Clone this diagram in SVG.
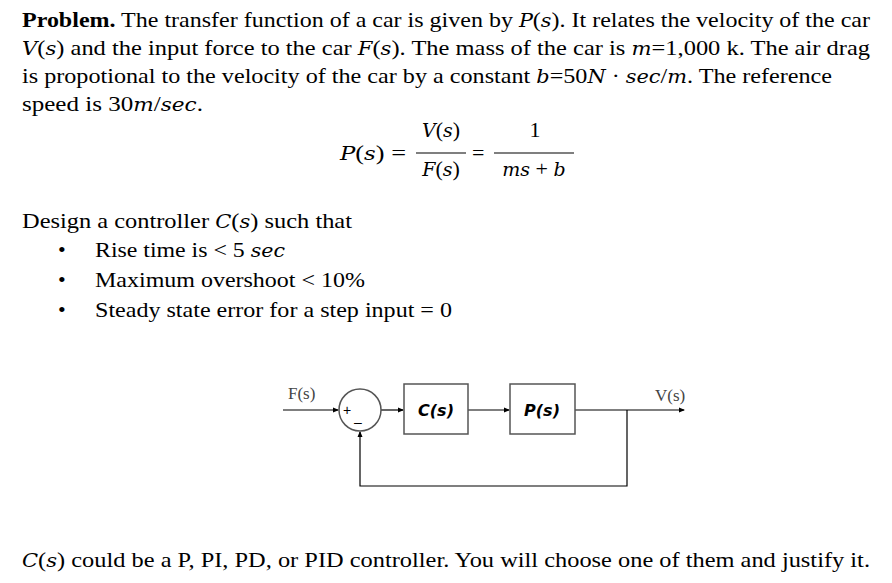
<svg xmlns="http://www.w3.org/2000/svg" width="892" height="583" viewBox="0 0 892 583">
<defs><marker id="a" markerWidth="6" markerHeight="6" refX="5" refY="3" orient="auto" markerUnits="userSpaceOnUse"><path d="M0,0.5 L6,3 L0,5.5z" fill="#000"/></marker></defs>
<style>
.t{font-family:"Liberation Serif",serif;font-size:22px;fill:#000}
.m{font-family:"DejaVu Serif","Liberation Serif",serif;font-style:italic;font-size:19px}
.c{fill:none;stroke:#000;stroke-width:1.2}
.bx{fill:#fff;stroke:#555;stroke-width:1.5}
.bl{font-family:"DejaVu Sans",sans-serif;font-weight:bold;font-style:italic;font-size:16px;text-anchor:middle}
.s{font-family:"Liberation Serif",serif;font-size:17px;fill:#444}
</style>
<rect width="892" height="583" fill="#fff"/>
<text class="t" x="22" y="27" textLength="848" lengthAdjust="spacingAndGlyphs"><tspan font-weight="bold">Problem.</tspan> The transfer function of a car is given by <tspan class="m">P</tspan>(<tspan class="m">s</tspan>). It relates the velocity of the car</text>
<text class="t" x="22" y="55" textLength="848" lengthAdjust="spacingAndGlyphs"><tspan class="m">V</tspan>(<tspan class="m">s</tspan>) and the input force to the car <tspan class="m">F</tspan>(<tspan class="m">s</tspan>). The mass of the car is <tspan class="m">m</tspan>=1,000 k. The air drag</text>
<text class="t" x="22" y="83" textLength="810" lengthAdjust="spacingAndGlyphs">is propotional to the velocity of the car by a constant <tspan class="m">b</tspan>=50<tspan class="m">N</tspan> · <tspan class="m">sec</tspan>/<tspan class="m">m</tspan>. The reference</text>
<text class="t" x="22" y="111" textLength="181" lengthAdjust="spacingAndGlyphs">speed is 30<tspan class="m">m</tspan>/<tspan class="m">sec</tspan>.</text>
<text class="t" x="340" y="160" textLength="66" lengthAdjust="spacingAndGlyphs"><tspan class="m">P</tspan>(<tspan class="m">s</tspan>) =</text>
<text class="t" x="441" y="137" text-anchor="middle"><tspan class="m">V</tspan>(<tspan class="m">s</tspan>)</text>
<line x1="416" y1="153" x2="466" y2="153" stroke="#000" stroke-width="1.2"/>
<text class="t" x="441" y="176" text-anchor="middle"><tspan class="m">F</tspan>(<tspan class="m">s</tspan>)</text>
<text class="t" x="472" y="160">=</text>
<text class="t" x="535" y="137" text-anchor="middle">1</text>
<line x1="494" y1="153" x2="574" y2="153" stroke="#000" stroke-width="1.2"/>
<text class="t" x="534" y="176" text-anchor="middle"><tspan class="m">ms</tspan> + <tspan class="m">b</tspan></text>
<text class="t" x="22" y="228" textLength="330" lengthAdjust="spacingAndGlyphs">Design a controller <tspan class="m">C</tspan>(<tspan class="m">s</tspan>) such that</text>
<text class="t" x="58" y="257">•</text><text class="t" x="95" y="257" textLength="190" lengthAdjust="spacingAndGlyphs">Rise time is &lt; 5 <tspan class="m">sec</tspan></text>
<text class="t" x="58" y="287">•</text><text class="t" x="95" y="287" textLength="270" lengthAdjust="spacingAndGlyphs">Maximum overshoot &lt; 10%</text>
<text class="t" x="58" y="317">•</text><text class="t" x="95" y="317" textLength="357" lengthAdjust="spacingAndGlyphs">Steady state error for a step input = 0</text>
<g id="connectors">
<line class="c" x1="283" y1="410" x2="338" y2="410" marker-end="url(#a)"/>
<line class="c" x1="381" y1="410" x2="403" y2="410" marker-end="url(#a)"/>
<line class="c" x1="468" y1="410" x2="509" y2="410" marker-end="url(#a)"/>
<line class="c" x1="575" y1="410" x2="684" y2="410" marker-end="url(#a)"/>
<polyline class="c" points="627,410 627,486 360,486 360,432" marker-end="url(#a)"/>
</g>
<g id="sum"><circle cx="360" cy="410" r="21" fill="#fff" stroke="#555" stroke-width="1.5"/>
<text x="343" y="415" font-family="Liberation Sans,sans-serif" font-size="14">+</text>
<text x="354" y="427" font-family="Liberation Sans,sans-serif" font-size="14">–</text></g>
<g id="C"><rect class="bx" x="404" y="384" width="64" height="50"/><text class="bl" x="436" y="416">C(s)</text></g>
<g id="P"><rect class="bx" x="510" y="384" width="65" height="50"/><text class="bl" x="542" y="416">P(s)</text></g>
<text class="s" x="288" y="399">F(s)</text>
<text class="s" x="655" y="401">V(s)</text>
<text class="t" x="22" y="567" textLength="848" lengthAdjust="spacingAndGlyphs"><tspan class="m">C</tspan>(<tspan class="m">s</tspan>) could be a P, PI, PD, or PID controller. You will choose one of them and justify it.</text>
</svg>
